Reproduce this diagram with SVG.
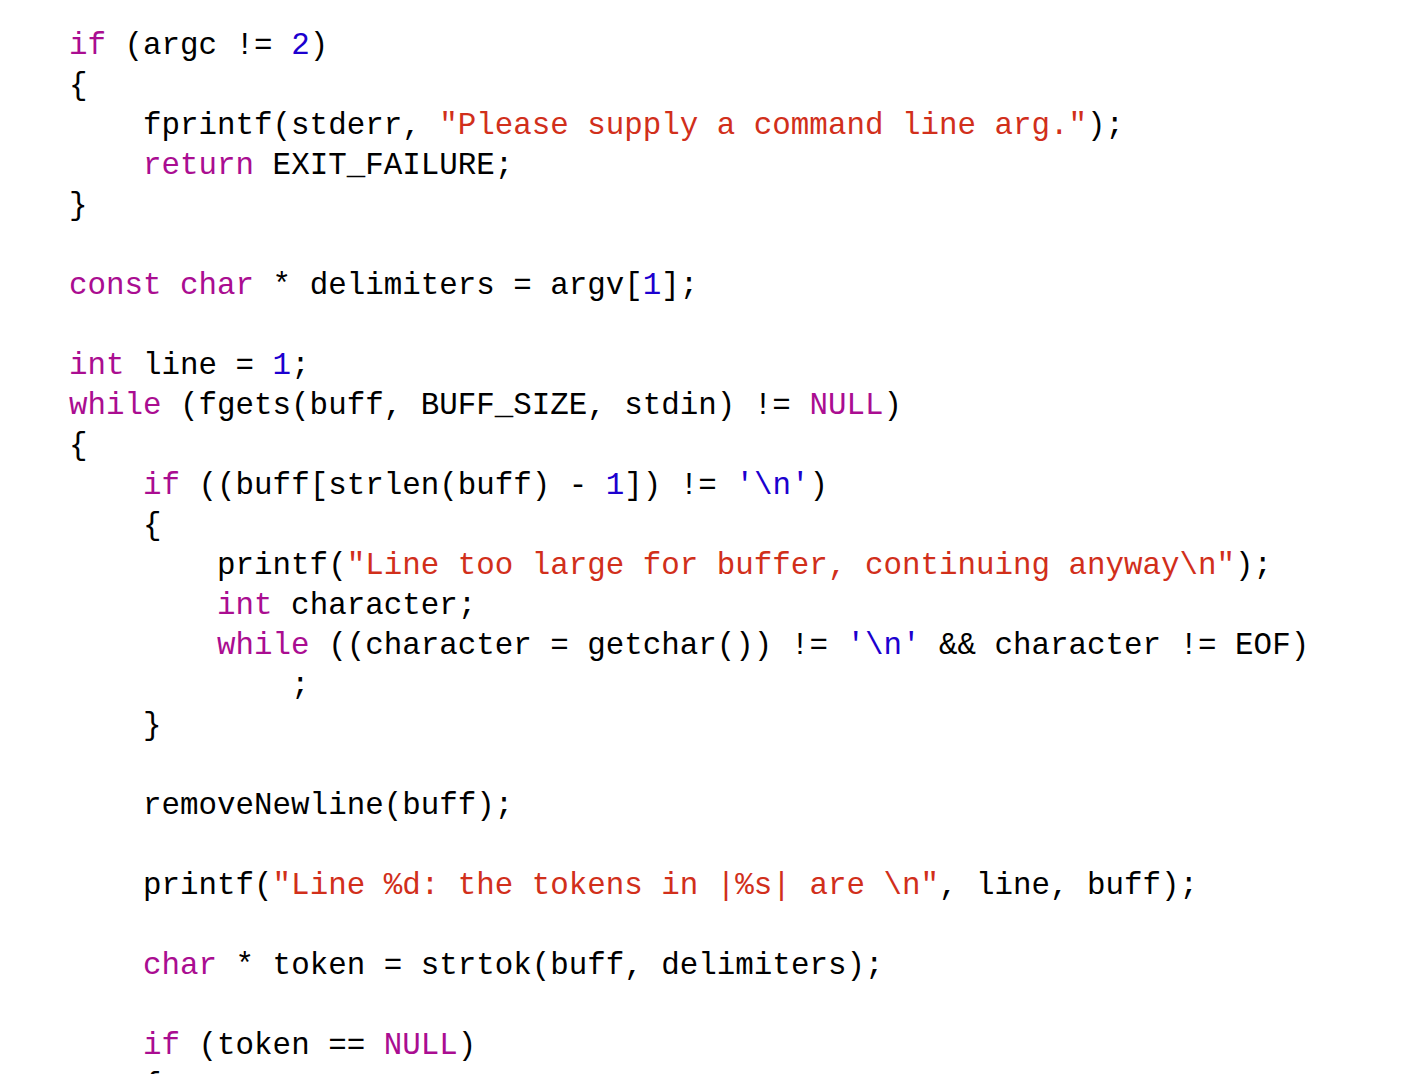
<svg xmlns="http://www.w3.org/2000/svg" width="1426" height="1074" viewBox="0 0 1426 1074">
<style>
text{font-family:"Liberation Mono","DejaVu Sans Mono",monospace;font-size:30.85px;fill:#000;white-space:pre}
.k{fill:#AA0D91}.s{fill:#D12F1B}.n{fill:#1C00CF}
</style>
<rect width="1426" height="1074" fill="#fff"/>
<g id="code" xml:space="preserve">
<text x="69" y="54"><tspan class="k">if</tspan> (argc != <tspan class="n">2</tspan>)</text>
<text x="69" y="94">{</text>
<text x="69" y="134">    fprintf(stderr, <tspan class="s">"Please supply a command line arg."</tspan>);</text>
<text x="69" y="174">    <tspan class="k">return</tspan> EXIT_FAILURE;</text>
<text x="69" y="214">}</text>
<text x="69" y="294"><tspan class="k">const</tspan> <tspan class="k">char</tspan> * delimiters = argv[<tspan class="n">1</tspan>];</text>
<text x="69" y="374"><tspan class="k">int</tspan> line = <tspan class="n">1</tspan>;</text>
<text x="69" y="414"><tspan class="k">while</tspan> (fgets(buff, BUFF_SIZE, stdin) != <tspan class="k">NULL</tspan>)</text>
<text x="69" y="454">{</text>
<text x="69" y="494">    <tspan class="k">if</tspan> ((buff[strlen(buff) - <tspan class="n">1</tspan>]) != <tspan class="n">'\n'</tspan>)</text>
<text x="69" y="534">    {</text>
<text x="69" y="574">        printf(<tspan class="s">"Line too large for buffer, continuing anyway\n"</tspan>);</text>
<text x="69" y="614">        <tspan class="k">int</tspan> character;</text>
<text x="69" y="654">        <tspan class="k">while</tspan> ((character = getchar()) != <tspan class="n">'\n'</tspan> &amp;&amp; character != EOF)</text>
<text x="69" y="694">            ;</text>
<text x="69" y="734">    }</text>
<text x="69" y="814">    removeNewline(buff);</text>
<text x="69" y="894">    printf(<tspan class="s">"Line %d: the tokens in |%s| are \n"</tspan>, line, buff);</text>
<text x="69" y="974">    <tspan class="k">char</tspan> * token = strtok(buff, delimiters);</text>
<text x="69" y="1054">    <tspan class="k">if</tspan> (token == <tspan class="k">NULL</tspan>)</text>
<text x="69" y="1094">    {</text>
</g>
</svg>
